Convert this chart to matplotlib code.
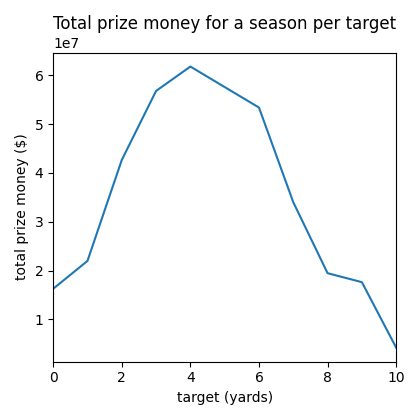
import matplotlib
matplotlib.use("Agg")
import matplotlib.pyplot as plt

target_yards = [0, 1, 2, 3, 4, 5, 6, 7, 8, 9, 10]
prize_money = [1.626e7, 2.197e7, 4.265e7, 5.68e7, 6.18e7, 5.76e7, 5.34e7, 3.40e7, 1.946e7, 1.762e7, 0.42e7]

fig, ax = plt.subplots(figsize=(4.2, 4.2), dpi=100)
ax.plot(target_yards, prize_money)
ax.set_xlim(0, 10)
ax.set_title("Total prize money for a season per target")
ax.set_xlabel("target (yards)")
ax.set_ylabel("total prize money ($)")
fig.tight_layout()
fig.savefig("out.png", dpi=100)
